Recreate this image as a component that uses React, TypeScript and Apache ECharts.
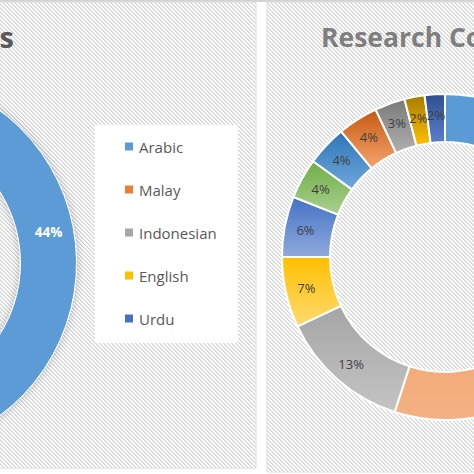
import React, { useEffect, useRef } from "react";
import * as echarts from "echarts";

const languageNames = ["Arabic", "Malay", "Indonesian", "English", "Urdu"];
const languageValues = [44, 30, 14, 8, 4];
const languageColors = ["#5B9BD5", "#ED7D31", "#A5A5A5", "#FFC000", "#4472C4"];
// only the first slice's label lies inside the cropped view
const languageLabelShown = [true, false, false, false, false];

const countryNames = ["C1", "C2", "C3", "C4", "C5", "C6", "C7", "C8", "C9", "C10", "C11"];
const countryValues = [30, 25, 13, 7, 6, 4, 4, 4, 3, 2, 2];
const countryTop = ["#5B9BD5", "#F4A36C", "#A5A5A5", "#FFC000", "#4472C4", "#70AD47", "#2E75B6", "#C55A11", "#7A7A7A", "#A67C00", "#2F4F8F"];
const countryBottom = ["#5B9BD5", "#F4B183", "#C4C4C4", "#FFDA70", "#8FAADC", "#A9D18E", "#6FA8DC", "#F4A46E", "#B0B0B0", "#FFC000", "#5B7FCC"];
const countryLabelShown = [false, false, true, true, true, true, true, true, true, true, true];

function makeStripe(): HTMLCanvasElement {
  const c = document.createElement("canvas");
  c.width = 4;
  c.height = 4;
  const ctx = c.getContext("2d")!;
  ctx.fillStyle = "#ffffff";
  ctx.fillRect(0, 0, 4, 4);
  for (let i = 0; i < 4; i++) {
    ctx.fillStyle = "#d2d2d2";
    ctx.fillRect(i, i, 1, 1);
    ctx.fillStyle = "#e8e8e8";
    ctx.fillRect((i + 1) % 4, i, 1, 1);
  }
  return c;
}

export default function App() {
  const ref = useRef<HTMLDivElement>(null);
  useEffect(() => {
    if (!ref.current) return;
    const chart = echarts.init(ref.current, null, { renderer: "svg" });
    const stripe = makeStripe();
    const pattern: any = { image: stripe, repeat: "repeat", imageWidth: 4, imageHeight: 4 };
    const font = "'Open Sans', Lato, sans-serif";
    chart.setOption({
      animation: false,
      backgroundColor: "#ffffff",
      graphic: [
        { type: "rect", z: -10, shape: { x: 0, y: 0, width: 474, height: 2 }, style: { fill: "#d4d4d4" } },
        { type: "rect", z: -9, shape: { x: -1, y: 2, width: 257, height: 466 }, style: { fill: pattern, stroke: "#dedede", lineWidth: 1 } },
        { type: "rect", z: -9, shape: { x: 267, y: 2, width: 210, height: 470 }, style: { fill: pattern, stroke: "#dedede", lineWidth: 1 } },
        { type: "rect", z: -8, shape: { x: 95, y: 125, width: 143, height: 218 }, style: { fill: "#ffffff" } },
        {
          type: "text", z: 5, x: 14, y: 36,
          style: { text: "Languages", textAlign: "right", textVerticalAlign: "middle", font: "bold 29px " + font, fill: "#595959" },
        },
        {
          type: "text", z: 5, x: 321, y: 37,
          style: { text: "Research Countries", textAlign: "left", textVerticalAlign: "middle", font: "bold 26.5px " + font, fill: "#7F7F7F" },
        },
      ],
      legend: {
        data: languageNames,
        orient: "vertical",
        left: 123,
        top: 139,
        itemWidth: 10,
        itemHeight: 10,
        itemGap: 28,
        icon: "rect",
        padding: 0,
        textStyle: { color: "#595959", fontSize: 15, fontFamily: font },
      },
      series: [
        {
          type: "pie",
          center: [-113.5, 263],
          radius: [134, 190],
          startAngle: 90,
          clockwise: true,
          silent: true,
          avoidLabelOverlap: false,
          itemStyle: { shadowBlur: 10, shadowColor: "rgba(0,0,0,0.25)", borderColor: "#ffffff", borderWidth: 1 },
          label: { show: true, position: "inside", formatter: "{c}%", color: "#ffffff", fontWeight: "bold", fontSize: 13.5, fontFamily: font },
          labelLine: { show: false },
          data: languageNames.map((n, i) => ({
            name: n,
            value: languageValues[i],
            itemStyle: { color: languageColors[i] },
            label: { show: languageLabelShown[i] },
          })),
        },
        {
          type: "pie",
          center: [445, 257],
          radius: [115, 163],
          startAngle: 90,
          clockwise: true,
          silent: true,
          avoidLabelOverlap: false,
          labelLayout: { hideOverlap: false },
          itemStyle: { borderColor: "#ffffff", borderWidth: 2 },
          label: { show: true, position: "inside", formatter: "{c}%", color: "#404040", fontSize: 13, fontFamily: font },
          labelLine: { show: false },
          data: countryNames.map((n, i) => ({
            name: n,
            value: countryValues[i],
            label: { show: countryLabelShown[i] },
            itemStyle: {
              color: {
                type: "linear", x: 0, y: 0, x2: 0, y2: 1,
                colorStops: [
                  { offset: 0, color: countryTop[i] },
                  { offset: 1, color: countryBottom[i] },
                ],
              },
            },
          })),
        },
      ],
    });
    return () => chart.dispose();
  }, []);
  return <div ref={ref} style={{ position: "fixed", left: 0, top: 0, width: 474, height: 474 }} />;
}
